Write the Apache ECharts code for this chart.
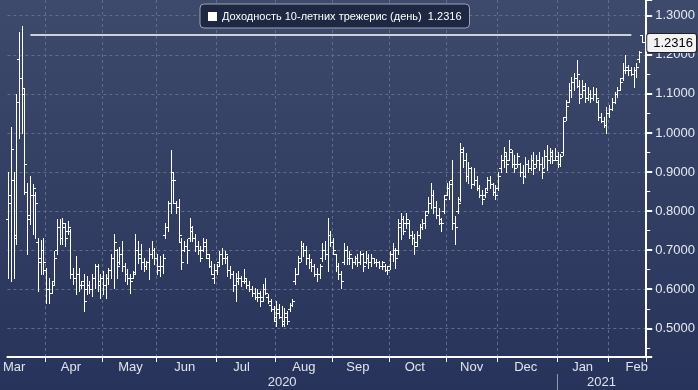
<!DOCTYPE html>
<html>
<head>
<meta charset="utf-8">
<script src="https://cdn.jsdelivr.net/npm/echarts@6/dist/echarts.min.js"></script>
<style>
html,body{margin:0;padding:0;background:#2f3b5c;}
#c{width:698px;height:390px;}
</style>
</head>
<body>
<div id="c"></div>
<script>
// ---------- data ----------
const seriesName = 'Доходность 10-летних трежерис (день)';
const firstDay = '2020-03-12';
const lastDay = '2021-02-18';
const holidays = ['2020-04-10','2020-05-25','2020-07-03','2020-09-07','2020-10-12','2020-11-11','2020-11-26','2020-12-25','2021-01-01','2021-01-18'];
const monthNames = ['Jan','Feb','Mar','Apr','May','Jun','Jul','Aug','Sep','Oct','Nov','Dec'];

const opens = [
0.78,0.82,0.88,0.74,1.19,1.14,1.10,0.85,0.79,0.84,
0.84,0.72,0.68,0.70,0.65,0.60,0.59,0.62,0.70,0.76,
0.73,0.76,0.75,0.75,0.64,0.63,0.64,0.61,0.62,0.60,
0.61,0.60,0.63,0.66,0.62,0.63,0.61,0.63,0.65,0.68,
0.70,0.67,0.69,0.66,0.64,0.63,0.63,0.645,0.70,0.68,
0.67,0.66,0.67,0.69,0.70,0.68,0.65,0.66,0.74,0.76,
0.82,0.88,0.82,0.81,0.72,0.70,0.71,0.73,0.75,0.73,
0.71,0.70,0.70,0.71,0.68,0.66,0.63,0.65,0.67,0.69,
0.68,0.68,0.65,0.64,0.61,0.62,0.63,0.62,0.62,0.61,
0.60,0.59,0.58,0.58,0.58,0.60,0.58,0.56,0.55,0.53,
0.54,0.53,0.52,0.53,0.55,0.56,0.62,0.64,0.68,0.71,
0.70,0.68,0.67,0.66,0.64,0.64,0.68,0.70,0.69,0.74,
0.72,0.69,0.66,0.64,0.67,0.70,0.68,0.68,0.67,0.68,
0.67,0.69,0.67,0.68,0.67,0.68,0.67,0.67,0.66,0.66,
0.65,0.66,0.69,0.70,0.70,0.76,0.78,0.77,0.77,0.74,
0.73,0.72,0.74,0.76,0.77,0.80,0.82,0.84,0.81,0.79,
0.77,0.80,0.84,0.86,0.88,0.77,0.80,0.83,0.95,0.93,
0.89,0.91,0.87,0.88,0.86,0.84,0.84,0.86,0.88,0.87,
0.85,0.86,0.91,0.93,0.94,0.93,0.95,0.92,0.92,0.92,
0.90,0.89,0.92,0.91,0.93,0.92,0.93,0.92,0.91,0.94,
0.93,0.94,0.93,0.93,0.92,0.95,1.04,1.08,1.11,1.13,
1.14,1.12,1.10,1.11,1.09,1.10,1.09,1.10,1.08,1.04,
1.03,1.02,1.05,1.06,1.08,1.10,1.11,1.14,1.16,1.16,
1.16,1.15,1.16,1.19,1.251
];
const highs = [
0.90,1.015,0.90,1.10,1.259,1.274,1.115,0.873,0.891,0.87,
0.848,0.73,0.727,0.73,0.655,0.63,0.621,0.698,0.78,0.78,
0.783,0.77,0.775,0.755,0.655,0.686,0.655,0.621,0.639,0.634,
0.621,0.639,0.665,0.665,0.639,0.647,0.64,0.655,0.69,0.742,
0.704,0.707,0.724,0.668,0.652,0.639,0.647,0.742,0.724,0.716,
0.68,0.673,0.706,0.724,0.706,0.691,0.686,0.691,0.77,0.827,
0.956,0.899,0.827,0.832,0.732,0.724,0.729,0.783,0.763,0.742,
0.724,0.711,0.732,0.729,0.691,0.673,0.665,0.665,0.698,0.706,
0.698,0.686,0.66,0.647,0.642,0.647,0.634,0.652,0.629,0.621,
0.608,0.603,0.60,0.596,0.614,0.629,0.588,0.575,0.557,0.57,
0.562,0.557,0.552,0.544,0.565,0.575,0.655,0.686,0.724,0.719,
0.711,0.691,0.678,0.665,0.655,0.665,0.719,0.724,0.783,0.75,
0.732,0.691,0.668,0.647,0.719,0.711,0.698,0.68,0.686,0.691,
0.698,0.693,0.698,0.691,0.691,0.68,0.678,0.673,0.673,0.665,
0.66,0.698,0.719,0.706,0.781,0.794,0.788,0.796,0.776,0.75,
0.742,0.75,0.768,0.781,0.801,0.835,0.871,0.853,0.827,0.809,
0.783,0.84,0.873,0.878,0.93,0.788,0.835,0.973,0.963,0.948,
0.925,0.912,0.909,0.891,0.866,0.853,0.86,0.886,0.891,0.873,
0.866,0.899,0.943,0.963,0.948,0.981,0.956,0.943,0.948,0.922,
0.917,0.938,0.93,0.943,0.95,0.943,0.95,0.938,0.956,0.968,
0.961,0.956,0.961,0.95,0.945,1.04,1.084,1.128,1.143,1.153,
1.187,1.135,1.135,1.128,1.117,1.11,1.117,1.115,1.084,1.051,
1.04,1.066,1.071,1.089,1.105,1.117,1.141,1.179,1.2,1.174,
1.169,1.169,1.179,1.21,1.251
];
const lows = [
0.63,0.62,0.63,0.716,0.986,0.999,0.845,0.69,0.768,0.742,
0.73,0.595,0.64,0.64,0.565,0.565,0.59,0.614,0.69,0.716,
0.716,0.711,0.742,0.63,0.614,0.588,0.595,0.603,0.544,0.588,
0.59,0.583,0.604,0.596,0.578,0.588,0.578,0.614,0.63,0.604,
0.63,0.665,0.647,0.621,0.614,0.59,0.629,0.642,0.668,0.652,
0.647,0.652,0.626,0.68,0.665,0.639,0.634,0.642,0.732,0.75,
0.796,0.82,0.796,0.724,0.652,0.698,0.668,0.724,0.724,0.698,
0.691,0.673,0.698,0.68,0.657,0.639,0.616,0.639,0.66,0.665,
0.668,0.634,0.629,0.596,0.57,0.614,0.608,0.616,0.603,0.596,
0.583,0.575,0.57,0.557,0.57,0.588,0.565,0.544,0.518,0.506,
0.526,0.506,0.506,0.511,0.544,0.557,0.614,0.639,0.673,0.686,
0.665,0.655,0.647,0.634,0.621,0.629,0.673,0.678,0.647,0.711,
0.691,0.647,0.626,0.603,0.665,0.665,0.665,0.655,0.665,0.66,
0.665,0.647,0.668,0.655,0.66,0.668,0.66,0.655,0.652,0.647,
0.639,0.652,0.673,0.655,0.691,0.729,0.742,0.758,0.732,0.716,
0.691,0.711,0.732,0.755,0.758,0.794,0.809,0.796,0.783,0.768,
0.75,0.794,0.84,0.832,0.755,0.716,0.796,0.827,0.912,0.878,
0.873,0.86,0.866,0.853,0.835,0.819,0.835,0.853,0.86,0.84,
0.832,0.853,0.899,0.912,0.899,0.93,0.912,0.899,0.912,0.891,
0.873,0.886,0.899,0.904,0.896,0.912,0.904,0.884,0.912,0.904,
0.922,0.922,0.93,0.912,0.915,0.943,1.033,1.079,1.092,1.11,
1.117,1.076,1.092,1.079,1.084,1.079,1.084,1.079,1.033,1.028,
1.015,0.999,1.04,1.058,1.076,1.092,1.11,1.135,1.153,1.148,
1.148,1.117,1.143,1.182,1.2316
];
const closes = [
0.84,0.96,0.73,1.08,1.14,1.115,0.92,0.78,0.84,0.86,
0.82,0.67,0.70,0.67,0.60,0.59,0.61,0.68,0.76,0.73,
0.77,0.73,0.76,0.64,0.63,0.64,0.61,0.61,0.57,0.61,
0.60,0.63,0.66,0.61,0.63,0.61,0.63,0.65,0.68,0.72,
0.66,0.69,0.66,0.64,0.63,0.62,0.64,0.70,0.69,0.67,
0.66,0.67,0.69,0.70,0.68,0.66,0.66,0.68,0.76,0.82,
0.90,0.88,0.81,0.74,0.67,0.71,0.70,0.76,0.73,0.71,
0.70,0.68,0.72,0.69,0.66,0.64,0.65,0.66,0.69,0.68,
0.69,0.65,0.64,0.61,0.63,0.63,0.62,0.63,0.61,0.60,
0.59,0.58,0.59,0.57,0.60,0.59,0.57,0.55,0.52,0.55,
0.53,0.51,0.54,0.52,0.56,0.57,0.64,0.67,0.71,0.70,
0.68,0.67,0.66,0.64,0.64,0.66,0.70,0.69,0.74,0.72,
0.70,0.66,0.64,0.62,0.70,0.68,0.69,0.67,0.68,0.67,
0.69,0.66,0.68,0.67,0.68,0.67,0.67,0.66,0.67,0.65,
0.65,0.69,0.70,0.68,0.77,0.78,0.75,0.78,0.74,0.73,
0.71,0.74,0.76,0.77,0.79,0.82,0.84,0.81,0.79,0.78,
0.77,0.83,0.86,0.87,0.77,0.76,0.82,0.96,0.93,0.89,
0.91,0.87,0.88,0.86,0.84,0.83,0.85,0.88,0.87,0.85,
0.84,0.89,0.93,0.95,0.92,0.96,0.92,0.91,0.94,0.90,
0.89,0.92,0.91,0.93,0.91,0.93,0.92,0.90,0.94,0.93,
0.95,0.93,0.94,0.92,0.94,1.03,1.07,1.11,1.13,1.14,
1.15,1.09,1.12,1.09,1.10,1.09,1.10,1.09,1.04,1.03,
1.02,1.05,1.06,1.08,1.10,1.11,1.13,1.16,1.17,1.16,
1.15,1.16,1.17,1.207,1.2316
];
const lastValue = 1.2316;
const refLineValue = 1.251;
const refLineFrom = '2020-03-24';
const refLineTo = '2021-02-11';
const yMin = 0.4266;
const yMax = 1.3402;

// ---------- categories (trading days) ----------
function pad(n){return n < 10 ? '0' + n : '' + n;}
function buildDays(){
  const out = [];
  const d = new Date(firstDay + 'T12:00:00Z');
  const end = new Date(lastDay + 'T12:00:00Z');
  while (d <= end) {
    const s = d.getUTCFullYear() + '-' + pad(d.getUTCMonth() + 1) + '-' + pad(d.getUTCDate());
    const wd = d.getUTCDay();
    if (wd !== 0 && wd !== 6 && holidays.indexOf(s) < 0) out.push(s);
    d.setUTCDate(d.getUTCDate() + 1);
  }
  return out;
}
const dates = buildDays();

const monthStart = new Set();
const monthLabel = new Set();
const yearStart = [];
let seenLabel = {};
dates.forEach(function(s, i){
  const ym = s.slice(0, 7);
  if (i > 0 && dates[i-1].slice(0, 7) !== ym) monthStart.add(i);
  if (i > 0 && dates[i-1].slice(0, 4) !== s.slice(0, 4)) yearStart.push(i);
  if (!seenLabel[ym] && +s.slice(8, 10) >= 15) { seenLabel[ym] = true; monthLabel.add(i); }
});
const yearLabel = new Set();
(function(){
  const bounds = [0].concat(yearStart).concat([dates.length]);
  for (let k = 0; k < bounds.length - 1; k++) {
    yearLabel.add(Math.floor((bounds[k] + bounds[k+1] - 1) / 2));
  }
})();

const ohlc = opens.map(function(o, i){ return [i, o, highs[i], lows[i], closes[i]]; });

// ---------- chart ----------
const FONT = 'Liberation Sans';
const chart = echarts.init(document.getElementById('c'), null, {renderer: 'canvas', width: 698, height: 390});

const gridColor = '#5f6c8c';
const option = {
  animation: false,
  backgroundColor: new echarts.graphic.LinearGradient(0, 0, 0, 1, [
    {offset: 0, color: '#3d4a6b'},
    {offset: 1, color: '#27335a'}
  ]),
  grid: {left: 0, right: 48, top: 0, bottom: 33},
  legend: {
    left: 200, top: 4,
    padding: [7, 8, 6, 8],
    backgroundColor: '#1e2843',
    borderColor: '#9ba4b7',
    borderWidth: 1,
    borderRadius: 4,
    itemWidth: 9, itemHeight: 9,
    icon: 'rect',
    data: [{name: seriesName}],
    textStyle: {color: '#ffffff', fontSize: 11, fontFamily: FONT},
    formatter: function(n){ return n + '  ' + lastValue.toFixed(4); },
    selectedMode: false
  },
  xAxis: [{
    type: 'category',
    data: dates,
    boundaryGap: true,
    position: 'bottom',
    axisLine: {show: true, lineStyle: {color: '#ffffff', width: 2}},
    axisTick: {show: true, interval: function(i){ return monthStart.has(i); }, length: 5, lineStyle: {color: '#ffffff', width: 1}},
    axisLabel: {
      interval: function(i){ return monthLabel.has(i); },
      formatter: function(v){ return monthNames[+v.slice(5, 7) - 1]; },
      color: '#dfe4ee', fontSize: 13, fontFamily: FONT, margin: 4
    },
    splitLine: {show: true, interval: function(i){ return monthStart.has(i); }, lineStyle: {color: gridColor, type: [3, 3], width: 1}}
  }, {
    type: 'category',
    data: dates,
    boundaryGap: true,
    position: 'bottom',
    offset: 17,
    axisLine: {show: false},
    axisTick: {show: false},
    axisLabel: {
      interval: function(i){ return yearLabel.has(i); },
      formatter: function(v){ return v.slice(0, 4); },
      color: '#dfe4ee', fontSize: 13, fontFamily: FONT, margin: 2
    },
    splitLine: {show: false}
  }],
  yAxis: {
    type: 'value',
    position: 'right',
    min: yMin, max: yMax,
    splitNumber: 9,
    axisLine: {show: true, lineStyle: {color: '#ffffff', width: 2}},
    axisTick: {show: true, length: 6, lineStyle: {color: '#ffffff', width: 2}},
    minorTick: {show: true, splitNumber: 2, length: 4, lineStyle: {color: '#ffffff', width: 1}},
    axisLabel: {
      color: '#e6eaf2', fontSize: 13, fontFamily: FONT, margin: 9,
      formatter: function(v){ return v.toFixed(4); },
      showMinLabel: false, showMaxLabel: false
    },
    splitLine: {show: true, showMinLine: false, showMaxLine: false, lineStyle: {color: gridColor, type: [3, 3], width: 1}}
  },
  series: [{
    name: seriesName,
    type: 'custom',
    coordinateSystem: 'cartesian2d',
    itemStyle: {color: '#ffffff'},
    encode: {x: 0, y: [1, 2, 3, 4]},
    data: ohlc,
    renderItem: function(params, api){
      const i = api.value(0);
      const pO = api.coord([i, api.value(1)]);
      const pH = api.coord([i, api.value(2)]);
      const pL = api.coord([i, api.value(3)]);
      const pC = api.coord([i, api.value(4)]);
      const bw = api.size([1, 0])[0];
      const t = Math.max(1.5, Math.round(bw * 0.75));
      const cx = Math.round(pH[0] - 0.5) + 0.5;
      const yo = Math.round(pO[1]) + 0.5;
      const yc = Math.round(pC[1]) + 0.5;
      const st = {stroke: '#ffffff', lineWidth: 1};
      return {type: 'group', children: [
        {type: 'line', shape: {x1: cx, y1: Math.round(pH[1]), x2: cx, y2: Math.round(pL[1]) + 1}, style: st},
        {type: 'line', shape: {x1: cx - 0.5 - t, y1: yo, x2: cx, y2: yo}, style: st},
        {type: 'line', shape: {x1: cx, y1: yc, x2: cx + 0.5 + t, y2: yc}, style: st}
      ]};
    }
  }, {
    name: '_ref',
    type: 'line',
    data: [],
    clip: false,
    silent: true,
    markLine: {
      silent: true,
      symbol: 'none',
      animation: false,
      data: [
        [
          {coord: [refLineFrom, refLineValue]},
          {coord: [refLineTo, refLineValue]}
        ],
        {
          yAxis: lastValue,
          lineStyle: {width: 0, color: 'rgba(0,0,0,0)'},
          label: {
            show: true, position: 'end', distance: 1,
            formatter: lastValue.toFixed(4),
            color: '#000000', fontSize: 13, fontFamily: FONT,
            backgroundColor: '#f2f2f2', borderColor: '#222222', borderWidth: 1, borderRadius: 2,
            padding: [3, 3, 2, 6]
          }
        }
      ],
      lineStyle: {color: '#ffffff', width: 1.5, type: 'solid'},
      label: {show: false}
    }
  }]
};
chart.setOption(option);

// year separator under the axis, positioned from the axis scale
(function(){
  const ys = yearStart[0];
  const a = chart.convertToPixel({xAxisIndex: 0}, ys);
  const b = chart.convertToPixel({xAxisIndex: 0}, ys + 1);
  const x = Math.round(a - (b - a) / 2) + 0.5;
  const yb = chart.convertToPixel({yAxisIndex: 0}, yMin);
  chart.setOption({graphic: [{
    type: 'line', silent: true,
    shape: {x1: x, y1: yb + 17, x2: x, y2: yb + 40},
    style: {stroke: '#9098ad', lineWidth: 1}
  }]});
})();
</script>
</body>
</html>
